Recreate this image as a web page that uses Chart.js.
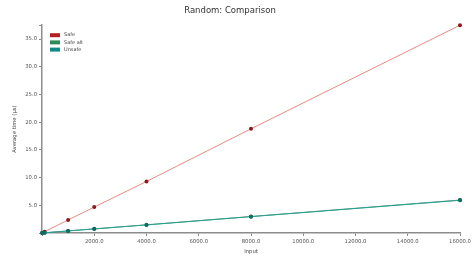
<!DOCTYPE html>
<html>
<head>
<meta charset="utf-8">
<script src="https://cdn.jsdelivr.net/npm/chart.js@4/dist/chart.umd.min.js"></script>
<style>
  html, body { margin: 0; padding: 0; background: #fff; }
  #wrap { width: 474px; height: 266px; }
</style>
</head>
<body>
<div id="wrap"><canvas id="c" width="474" height="266"></canvas></div>
<script>
// 入力サイズ
const inputs = [10, 100, 1000, 2000, 4000, 8000, 16000];
// 平均時間 (µs)
const safe    = [0.04, 0.24, 2.35, 4.68, 9.3, 18.8, 37.5];
const safeAlt = [0.01, 0.04, 0.38, 0.75, 1.48, 2.98, 5.95];
const unsafe  = [0.01, 0.04, 0.37, 0.73, 1.46, 2.95, 5.9];

const FONT = "DejaVu Sans";
const AXIS = "#8c8c8c";

function pts(ys) {
  return inputs.map((x, i) => ({ x: x, y: ys[i] }));
}

// order: 小さいほど上に描かれる（後から描いた系列が上、matplotlibと同じに）
function series(label, ys, fill, line, mark, order) {
  return {
    label: label,
    data: pts(ys),
    showLine: true,
    backgroundColor: fill,
    borderColor: line,
    borderWidth: 1,
    pointRadius: 2,
    pointBackgroundColor: mark,
    pointBorderColor: mark,
    pointBorderWidth: 0,
    clip: 4,
    order: order,
  };
}

// 凡例はプロット内の左上に手描き（matplotlib風）
const innerLegend = {
  id: "innerLegend",
  afterDraw(chart) {
    const ctx = chart.ctx;
    const a = chart.chartArea;
    const x0 = a.left + 8, y0 = a.top + 8;
    ctx.save();
    ctx.font = "5px " + FONT;
    ctx.textBaseline = "middle";
    chart.data.datasets.forEach((d, i) => {
      const y = y0 + i * 7.2;
      ctx.fillStyle = d.backgroundColor;
      ctx.fillRect(x0, y, 10, 4);
      ctx.fillStyle = "#444";
      ctx.fillText(d.label, x0 + 14, y + 2);
    });
    ctx.restore();
  }
};

const yMax = Math.max(...safe);

new Chart(document.getElementById("c"), {
  type: "scatter",
  data: {
    datasets: [
      series("Safe", safe, "#b22222", "rgba(215,90,80,0.7)", "#8e1a1a", 3),
      series("Safe alt", safeAlt, "#2e8b57", "rgba(46,139,87,0.8)", "#1f6b43", 2),
      series("Unsafe", unsafe, "#0f8a86", "#2a9d90", "#0b6e66", 1),
    ]
  },
  plugins: [innerLegend],
  options: {
    responsive: false,
    animation: false,
    layout: { padding: { left: 0, right: 14, top: 0, bottom: 7 } },
    plugins: {
      title: {
        display: true,
        text: "Random: Comparison",
        color: "#333",
        font: { family: FONT, size: 8.5, weight: "normal" },
        padding: { top: 6, bottom: 9 }
      },
      legend: { display: false },
      tooltip: { enabled: false }
    },
    scales: {
      x: {
        type: "linear",
        min: 0,
        max: 16000,
        border: { color: AXIS, width: 1.5 },
        grid: { drawOnChartArea: false, color: AXIS, tickLength: 3 },
        ticks: {
          stepSize: 2000,
          color: "#555",
          font: { family: FONT, size: 5.3 },
          padding: 2,
          maxRotation: 0,
          callback: (v) => v === 0 ? "" : v.toFixed(1)
        },
        title: {
          display: true,
          text: "Input",
          color: "#444",
          font: { family: FONT, size: 5.3 },
          padding: { top: 2 }
        },
        afterFit: (s) => { s.height = 26; }
      },
      y: {
        min: 0,
        max: yMax,
        border: { color: AXIS, width: 1.5 },
        grid: { drawOnChartArea: false, color: AXIS, tickLength: 3 },
        ticks: {
          stepSize: 5,
          color: "#555",
          font: { family: FONT, size: 5.3 },
          padding: 2,
          callback: (v) => (v === 0 || v % 5 !== 0) ? "" : v.toFixed(1)
        },
        title: {
          display: true,
          text: "Average time (µs)",
          color: "#444",
          font: { family: FONT, size: 5.3 },
          padding: { top: 11, bottom: 0 }
        },
        afterFit: (s) => { s.width = 42; }
      }
    }
  }
});
</script>
</body>
</html>
